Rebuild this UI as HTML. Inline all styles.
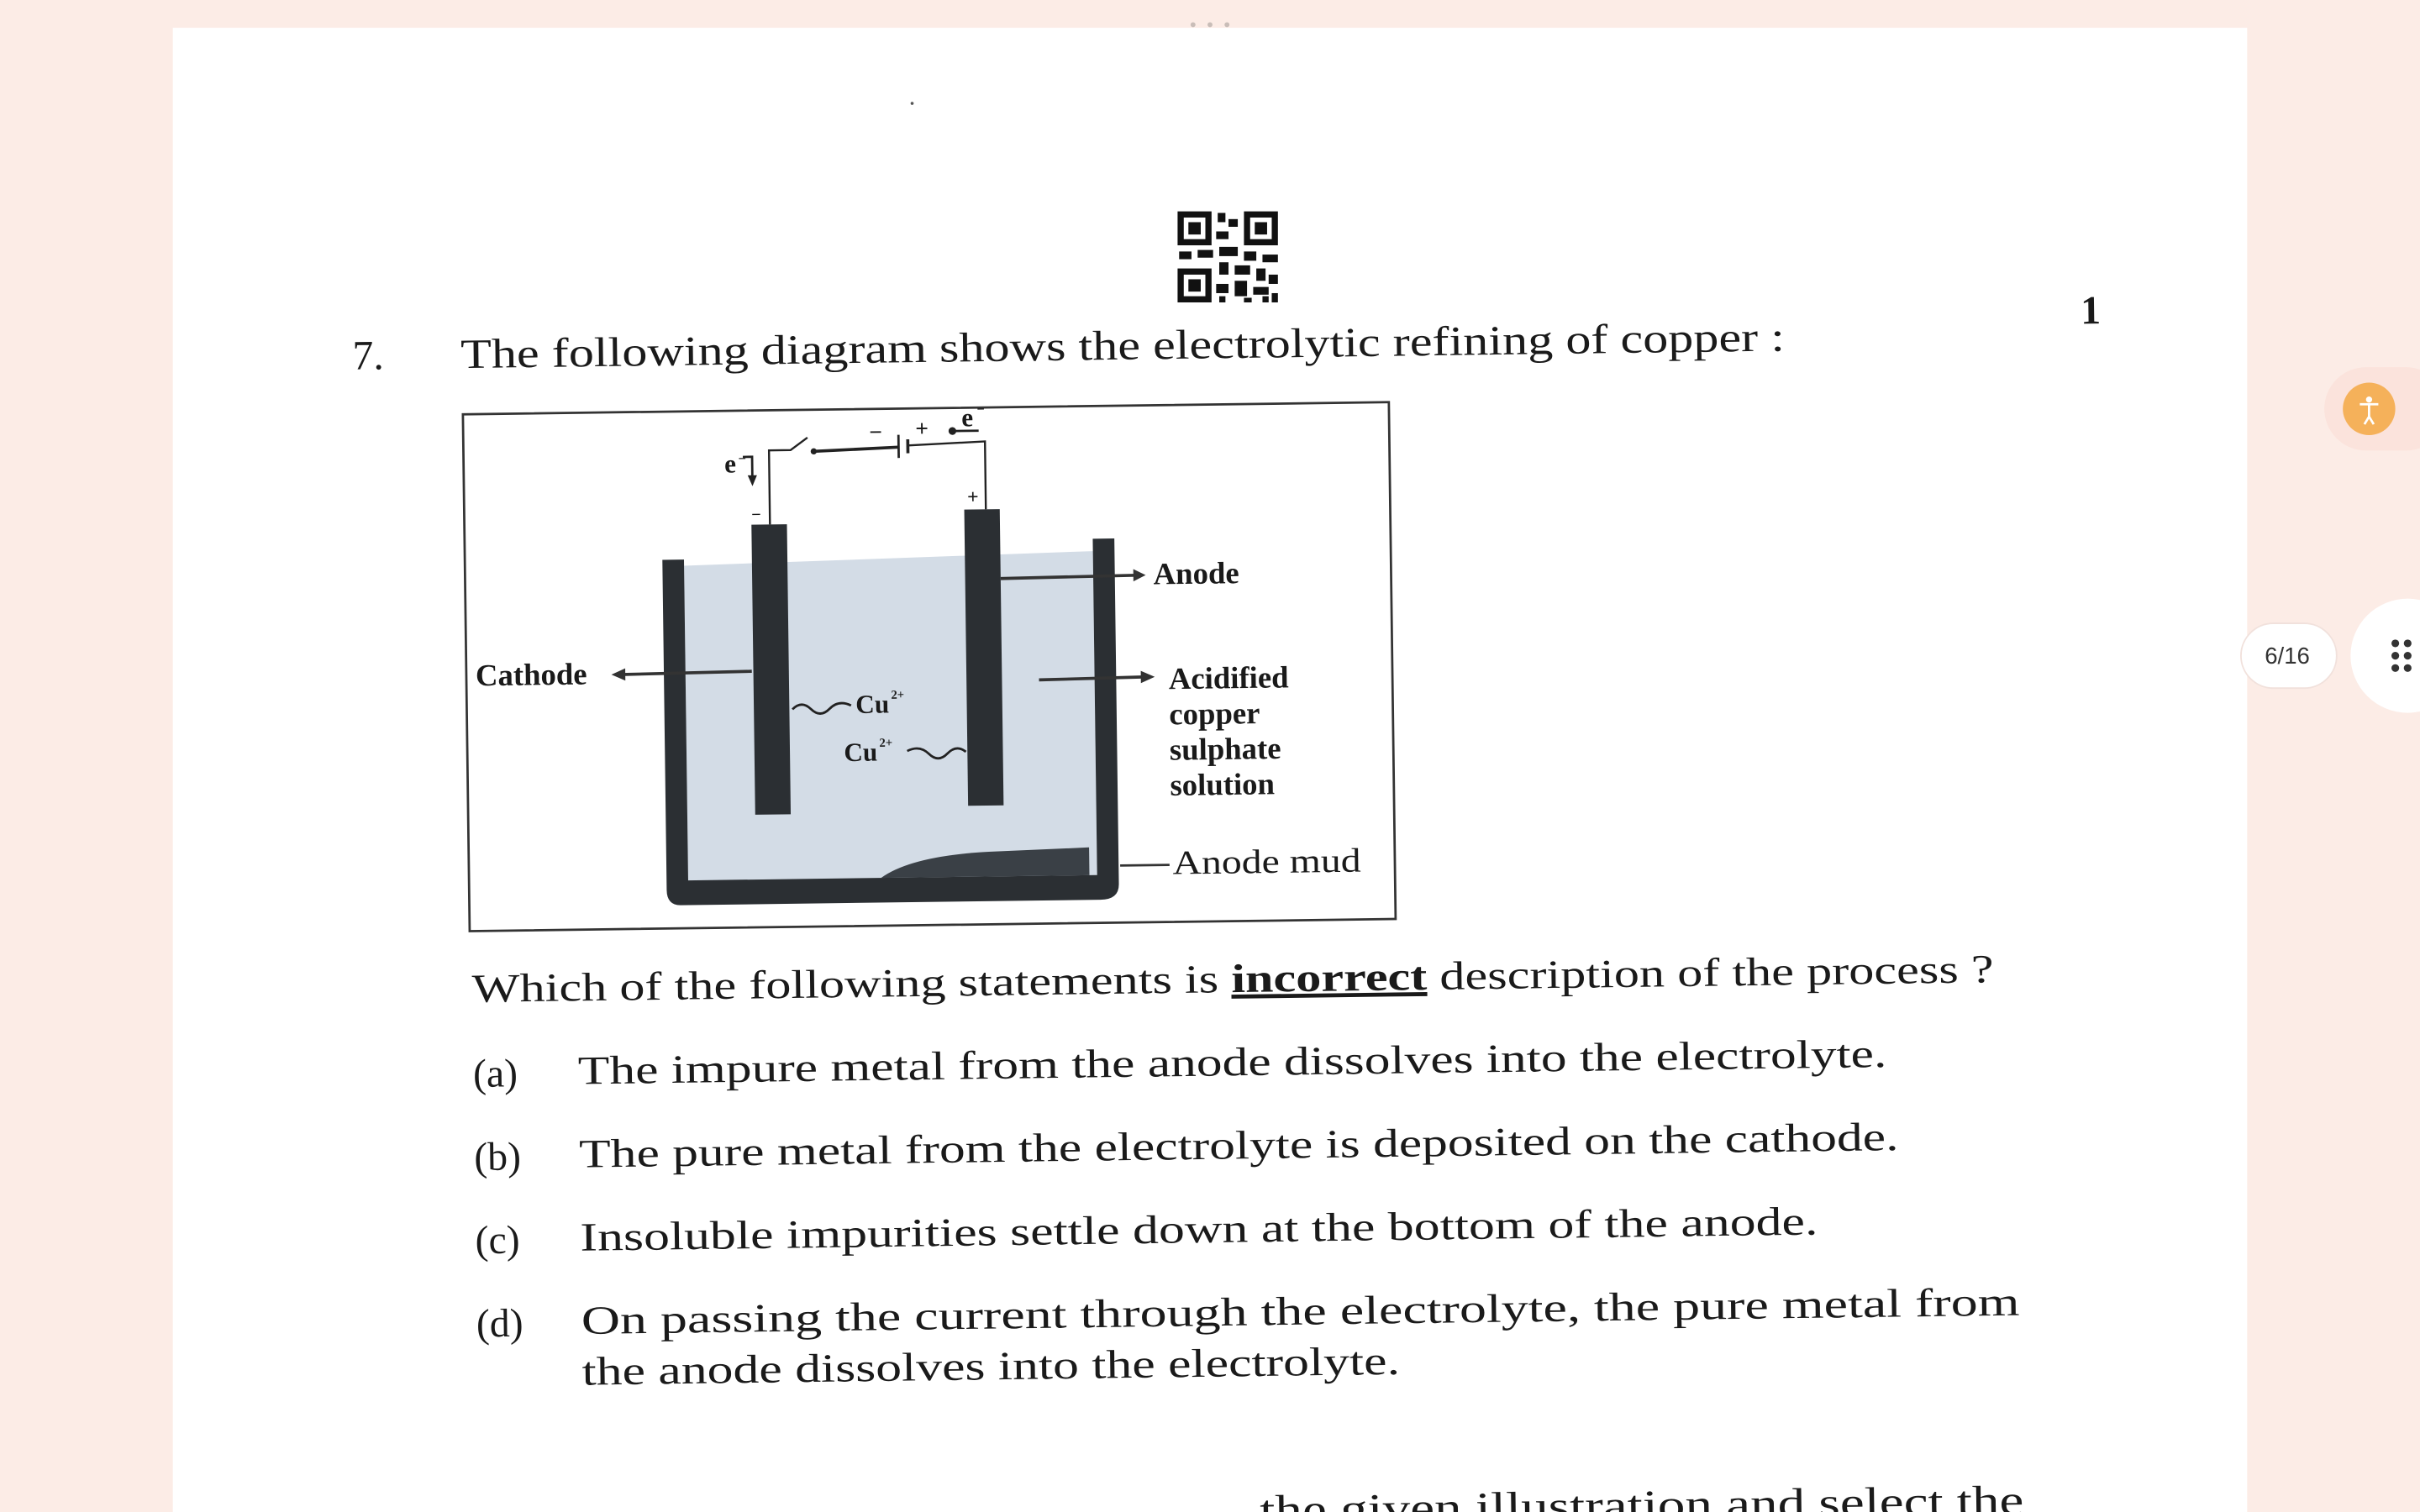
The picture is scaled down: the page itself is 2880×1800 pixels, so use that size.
<!DOCTYPE html>
<html><head><meta charset="utf-8"><style>
html,body{margin:0;padding:0;width:2880px;height:1800px;overflow:hidden;background:#fcece6;}
svg{display:block}
.t{font-family:"Liberation Serif",serif;fill:#1a1a1a;}
.b{font-family:"Liberation Serif",serif;font-weight:bold;fill:#1a1a1a;}
</style></head><body>
<svg width="2880" height="1800" viewBox="0 0 1568 980" xmlns="http://www.w3.org/2000/svg">
<rect x="0" y="0" width="1568" height="980" fill="#fcece6"/>
<rect x="112" y="18" width="1344" height="970" fill="#ffffff"/>
<circle cx="773" cy="16" r="1.6" fill="#c9bdb8"/><circle cx="784" cy="16" r="1.6" fill="#c9bdb8"/><circle cx="795" cy="16" r="1.6" fill="#c9bdb8"/>
<circle cx="591" cy="67" r="1" fill="#555"/>
<g fill="#111">
<rect x="763" y="137" width="22" height="22"/><rect x="767" y="141" width="14" height="14" fill="#fff"/><rect x="770" y="144" width="8" height="8"/>
<rect x="806" y="137" width="22" height="22"/><rect x="810" y="141" width="14" height="14" fill="#fff"/><rect x="813" y="144" width="8" height="8"/>
<rect x="763" y="174" width="22" height="22"/><rect x="767" y="178" width="14" height="14" fill="#fff"/><rect x="770" y="181" width="8" height="8"/>
<rect x="789" y="138" width="5" height="6"/><rect x="796" y="142" width="6" height="5"/><rect x="788" y="150" width="8" height="5"/>
<rect x="764" y="163" width="8" height="5"/><rect x="776" y="162" width="10" height="5"/><rect x="790" y="160" width="12" height="6"/>
<rect x="806" y="163" width="8" height="6"/><rect x="818" y="165" width="10" height="5"/><rect x="790" y="170" width="6" height="8"/>
<rect x="800" y="172" width="10" height="6"/><rect x="814" y="174" width="6" height="8"/><rect x="788" y="184" width="8" height="6"/>
<rect x="800" y="182" width="8" height="10"/><rect x="812" y="186" width="10" height="5"/><rect x="822" y="178" width="6" height="6"/>
<rect x="790" y="192" width="4" height="4"/><rect x="806" y="193" width="5" height="3"/><rect x="818" y="192" width="4" height="4"/><rect x="824" y="190" width="4" height="6"/>
</g>
<g transform="rotate(-0.75 800 500)">
<text class="t" x="232" y="232" font-size="27">7.</text>
<text class="t" x="302" y="232" font-size="27" textLength="858" lengthAdjust="spacingAndGlyphs">The following diagram shows the electrolytic refining of copper :</text>
<text class="b" x="1352" y="217" font-size="26">1</text>
<rect x="303" y="262" width="600" height="335" fill="none" stroke="#333" stroke-width="1.5"/>
<path d="M445 362 L710 356 L710 572 L445 572 Z" fill="#d3dce6"/>
<path d="M431 358 L445 358 L445 566 L710 566 L710 348 L724 348 L724 572 Q724 582 712 582 L440 582 Q431 582 431 572 Z" fill="#2b2f33"/>
<path d="M570 566 Q590 552 640 550 L705 548 L705 566 Z" fill="#3a4046"/>
<rect x="489" y="336" width="23" height="188" fill="#2b2f33"/>
<rect x="627" y="328" width="23" height="192" fill="#2b2f33"/>
<path d="M501 336 L501 288 L515 288 L526 280" fill="none" stroke="#222" stroke-width="1.3"/>
<line x1="530" y1="289" x2="585" y2="287" stroke="#222" stroke-width="2"/>
<circle cx="530" cy="289" r="2" fill="#222"/>
<line x1="585" y1="279" x2="585" y2="294" stroke="#222" stroke-width="1.5"/>
<line x1="591" y1="282" x2="591" y2="291" stroke="#222" stroke-width="2"/>
<path d="M591 286 L641 284 L641 328" fill="none" stroke="#222" stroke-width="1.3"/>
<text class="b" x="566" y="282" font-size="15">−</text>
<text class="b" x="596" y="280" font-size="15">+</text>
<text class="b" x="626" y="274" font-size="17">e</text><text class="b" x="636" y="266" font-size="9">−</text>
<path d="M637 277 L622 277" stroke="#222" stroke-width="1.5"/><circle cx="620" cy="277" r="2.5" fill="#222"/>
<text class="b" x="472" y="302" font-size="17">e</text><text class="b" x="481" y="296" font-size="9">−</text>
<path d="M484 292 L490 292 L490 306" fill="none" stroke="#222" stroke-width="1.5"/><path d="M487 304 L493 304 L490 311 Z" fill="#222"/>
<text class="b" x="489" y="333" font-size="11">−</text>
<text class="b" x="629" y="324" font-size="13">+</text>
<line x1="650" y1="373" x2="738" y2="372" stroke="#333" stroke-width="2"/><path d="M736 368 L744 372 L736 376 Z" fill="#333"/>
<text class="b" x="749" y="378" font-size="20">Anode</text>
<line x1="488" y1="431" x2="404" y2="432" stroke="#333" stroke-width="2"/><path d="M406 428 L397 432 L406 436 Z" fill="#333"/>
<text class="b" x="309" y="438" font-size="20">Cathode</text>
<line x1="674" y1="439" x2="742" y2="438" stroke="#333" stroke-width="2"/><path d="M740 434 L749 438 L740 442 Z" fill="#333"/>
<text class="b" x="758" y="446" font-size="20">Acidified</text>
<text class="b" x="758" y="469" font-size="20">copper</text>
<text class="b" x="758" y="492" font-size="20">sulphate</text>
<text class="b" x="758" y="515" font-size="20">solution</text>
<line x1="725" y1="560" x2="757" y2="560" stroke="#333" stroke-width="1.5"/>
<text class="t" x="759" y="566" font-size="22" textLength="122" lengthAdjust="spacingAndGlyphs">Anode mud</text>
<path d="M514 456 Q520 450 526 456 Q532 462 538 456 Q544 450 552 454" fill="none" stroke="#222" stroke-width="1.5"/>
<text class="b" x="555" y="459" font-size="17">Cu</text><text class="b" x="578" y="450" font-size="8">2+</text>
<text class="b" x="547" y="490" font-size="17">Cu</text><text class="b" x="570" y="481" font-size="8">2+</text>
<path d="M626 485 Q620 480 614 486 Q608 492 602 486 Q596 480 588 484" fill="none" stroke="#222" stroke-width="1.5"/>
<text class="t" x="304" y="643" font-size="26" textLength="986" lengthAdjust="spacingAndGlyphs">Which of the following statements is <tspan class="b" text-decoration="underline">incorrect</tspan> description of the process ?</text>
<text class="t" x="304" y="698" font-size="26">(a)</text>
<text class="t" x="372" y="697" font-size="26" textLength="848" lengthAdjust="spacingAndGlyphs">The impure metal from the anode dissolves into the electrolyte.</text>
<text class="t" x="304" y="752" font-size="26">(b)</text>
<text class="t" x="372" y="751" font-size="26" textLength="855" lengthAdjust="spacingAndGlyphs">The pure metal from the electrolyte is deposited on the cathode.</text>
<text class="t" x="304" y="806" font-size="26">(c)</text>
<text class="t" x="372" y="805" font-size="26" textLength="802" lengthAdjust="spacingAndGlyphs">Insoluble impurities settle down at the bottom of the anode.</text>
<text class="t" x="304" y="860" font-size="26">(d)</text>
<text class="t" x="372" y="859" font-size="26" textLength="932" lengthAdjust="spacingAndGlyphs">On passing the current through the electrolyte, the pure metal from</text>
<text class="t" x="372" y="892" font-size="26" textLength="530" lengthAdjust="spacingAndGlyphs">the anode dissolves into the electrolyte.</text>
<text class="t" x="810" y="988" font-size="27" textLength="495" lengthAdjust="spacingAndGlyphs">the given illustration and select the</text>
</g>
<rect x="1506" y="238" width="80" height="54" rx="27" fill="#fbe3dc"/>
<circle cx="1535" cy="265" r="17" fill="#f5b15a"/>
<circle cx="1535" cy="259" r="2" fill="#fff"/><path d="M1529 262 L1541 262 M1535 262 L1535 270 M1535 270 L1532 275 M1535 270 L1538 275" stroke="#fff" stroke-width="1.5"/>
<rect x="1452" y="404" width="62" height="42" rx="21" fill="#fff" stroke="#f1e1dc"/>
<text x="1482" y="430" font-family="Liberation Sans,sans-serif" font-size="15" fill="#333" text-anchor="middle">6/16</text>
<circle cx="1560" cy="425" r="37" fill="#fff"/>
<g fill="#333"><circle cx="1552" cy="417" r="2.5"/><circle cx="1560" cy="417" r="2.5"/><circle cx="1552" cy="425" r="2.5"/><circle cx="1560" cy="425" r="2.5"/><circle cx="1552" cy="433" r="2.5"/><circle cx="1560" cy="433" r="2.5"/></g>
</svg>
</body></html>
